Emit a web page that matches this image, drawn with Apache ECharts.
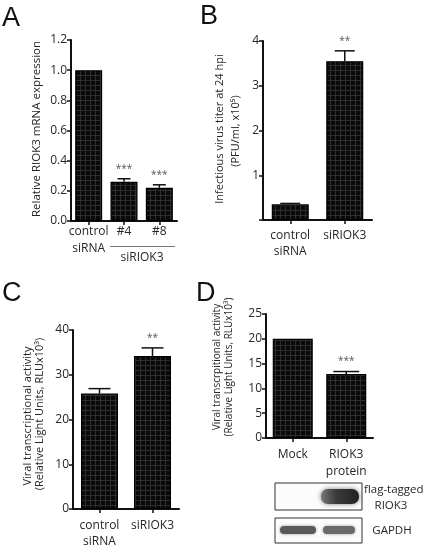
<!DOCTYPE html>
<html><head><meta charset="utf-8">
<script src="https://cdn.jsdelivr.net/npm/echarts@6/dist/echarts.min.js"></script>
<style>html,body{margin:0;padding:0;background:#fff}#c{width:429px;height:550px}</style>
</head><body><div id="c"></div>
<script>
// ---- Panel A ----
const catsA = ['control\nsiRNA', '#4', '#8'];
const valsA = [1.0, 0.26, 0.22];
const errA = [0, 0.02, 0.02];
const starsA = ['', '***', '***'];
// ---- Panel B ----
const catsB = ['control\nsiRNA', 'siRIOK3'];
const valsB = [0.35, 3.55];
const errB = [0.02, 0.23];
const starsB = ['', '**'];
// ---- Panel C ----
const catsC = ['control\nsiRNA', 'siRIOK3'];
const valsC = [25.8, 34.2];
const errC = [1.1, 1.8];
const starsC = ['', '**'];
// ---- Panel D ----
const catsD = ['Mock', 'RIOK3\nprotein'];
const valsD = [20, 12.9];
const errD = [0, 0.5];
const starsD = ['', '***'];

const FONT = '"Open Sans", "DejaVu Sans", sans-serif';
const TXT = '#262626';

function makePattern() {
  const c = document.createElement('canvas'); c.width = 5; c.height = 5;
  const g = c.getContext('2d');
  g.fillStyle = '#0a0a0a'; g.fillRect(0, 0, 5, 5);
  g.fillStyle = '#2e2e2e'; g.fillRect(0, 0, 5, 1); g.fillRect(0, 0, 1, 5);
  return c;
}
const barFill = { image: makePattern(), repeat: 'repeat' };

function yAxisCfg(grid, min, max, interval, fmt) {
  return {
    type: 'value', gridIndex: grid, min: min, max: max, interval: interval,
    splitLine: { show: false },
    axisLine: { show: true, lineStyle: { color: '#111', width: 2 } },
    axisTick: { show: true, length: 4, lineStyle: { color: '#111', width: 1.5 } },
    axisLabel: { fontSize: 12, color: TXT, fontFamily: FONT, margin: 4, formatter: fmt }
  };
}
function xAxisCfg(grid, cats, margin, lh) {
  return {
    type: 'category', gridIndex: grid, data: cats,
    axisLine: { show: true, lineStyle: { color: '#111', width: 2 } },
    axisTick: { show: true, alignWithLabel: true, length: 4, lineStyle: { color: '#111', width: 1.5 } },
    axisLabel: { fontSize: 12, color: TXT, fontFamily: FONT, margin: margin, lineHeight: lh, interval: 0 }
  };
}
function barSeries(ax, vals, width) {
  return {
    type: 'bar', xAxisIndex: ax, yAxisIndex: ax, data: vals, barWidth: width,
    itemStyle: { color: barFill, borderColor: '#000', borderWidth: 1.2 },
    silent: true, z: 2
  };
}
function errSeries(ax, vals, errs, stars, capW) {
  return {
    type: 'custom', xAxisIndex: ax, yAxisIndex: ax, z: 5, silent: true,
    data: vals.map((v, i) => [i, v, errs[i]]),
    renderItem: function (params, api) {
      const i = api.value(0), v = api.value(1), e = api.value(2);
      const base = api.coord([i, v]);
      const top = api.coord([i, v + e]);
      const ch = [];
      if (e > 0) {
        ch.push({ type: 'line', shape: { x1: top[0], y1: base[1], x2: top[0], y2: top[1] }, style: { stroke: '#111', lineWidth: 1.5 } });
        ch.push({ type: 'line', shape: { x1: top[0] - capW / 2, y1: top[1], x2: top[0] + capW / 2, y2: top[1] }, style: { stroke: '#111', lineWidth: 1.5 } });
      }
      const s = stars[params.dataIndex];
      if (s) {
        ch.push({ type: 'text', style: { text: s, x: top[0], y: top[1] - 5, align: 'center', verticalAlign: 'bottom', fontSize: 10, fill: '#555', fontFamily: FONT } });
      }
      return { type: 'group', children: ch };
    }
  };
}
function vText(x, y, text, size) {
  return { type: 'text', x: x, y: y, rotation: Math.PI / 2,
    style: { text: text, align: 'center', verticalAlign: 'middle', fontSize: size, fill: TXT, fontFamily: FONT } };
}
function letter(x, y, t) {
  return { type: 'text', x: x, y: y, style: { text: t, fontSize: 27, fill: '#111', fontFamily: '"Liberation Sans", Arial, sans-serif' } };
}

const chart = echarts.init(document.getElementById('c'), null, { renderer: 'canvas' });
chart.setOption({
  animation: false,
  backgroundColor: '#fff',
  grid: [
    { left: 71, top: 40, width: 106, height: 181 },
    { left: 263, top: 41, width: 109, height: 179 },
    { left: 73, top: 330, width: 106, height: 180 },
    { left: 266, top: 314, width: 107, height: 124 }
  ],
  xAxis: [
    xAxisCfg(0, catsA, 2, 17),
    xAxisCfg(1, catsB, 8, 16),
    xAxisCfg(2, catsC, 9, 16),
    xAxisCfg(3, catsD, 8, 17)
  ],
  yAxis: [
    yAxisCfg(0, 0, 1.2, 0.2, v => v.toFixed(1)),
    yAxisCfg(1, 0, 4, 1, v => v === 0 ? '' : String(v)),
    yAxisCfg(2, 0, 40, 10, v => String(v)),
    yAxisCfg(3, 0, 25, 5, v => String(v))
  ],
  series: [
    barSeries(0, valsA, 27), errSeries(0, valsA, errA, starsA, 13),
    barSeries(1, valsB, 37), errSeries(1, valsB, errB, starsB, 20),
    barSeries(2, valsC, 37), errSeries(2, valsC, errC, starsC, 22),
    barSeries(3, valsD, 40), errSeries(3, valsD, errD, starsD, 26)
  ],
  graphic: [
    letter(2, 5, 'A'), letter(200, 3, 'B'), letter(2, 280, 'C'), letter(196, 280, 'D'),
    vText(37, 129, 'Relative RIOK3 mRNA expression', 11.5),
    vText(220, 129, 'Infectious virus titer at 24 hpi', 11),
    vText(236, 131, '(PFU/ml, x10\u2075)', 11),
    vText(28, 416, 'Viral transcriptional activity', 11),
    vText(40, 414, '(Relative Light Units, RLUx10\u00b3)', 11),
    vText(217, 367, 'Viral transcrpitional activity', 10),
    vText(229, 367, '(Relative Light Units, RLUx10\u00b3)', 10),
    { type: 'line', shape: { x1: 110, y1: 246.5, x2: 175, y2: 246.5 }, style: { stroke: '#777', lineWidth: 1 } },
    { type: 'text', x: 142, y: 258, style: { text: 'siRIOK3', align: 'center', verticalAlign: 'middle', fontSize: 12, fill: TXT, fontFamily: FONT } },
    // western blot
    { type: 'rect', shape: { x: 275, y: 483, width: 87, height: 27 }, style: { fill: '#fcfcfc', stroke: '#333', lineWidth: 1 } },
    { type: 'rect', shape: { x: 321, y: 489, width: 38, height: 15, r: 7 },
      style: { fill: new echarts.graphic.LinearGradient(0, 0, 1, 0, [{ offset: 0, color: '#777' }, { offset: 0.4, color: '#3a3a3a' }, { offset: 1, color: '#222' }]),
        shadowBlur: 5, shadowColor: 'rgba(0,0,0,0.5)' } },
    { type: 'rect', shape: { x: 275, y: 518, width: 87, height: 25 }, style: { fill: '#fcfcfc', stroke: '#333', lineWidth: 1 } },
    { type: 'rect', shape: { x: 280, y: 526, width: 36, height: 8, r: 4 }, style: { fill: '#5a5a5a', shadowBlur: 3, shadowColor: 'rgba(0,0,0,0.4)' } },
    { type: 'rect', shape: { x: 323, y: 526, width: 32, height: 8, r: 4 }, style: { fill: '#6a6a6a', shadowBlur: 3, shadowColor: 'rgba(0,0,0,0.4)' } },
    { type: 'text', x: 364, y: 490, style: { text: 'flag-tagged', align: 'left', verticalAlign: 'middle', fontSize: 11.5, fill: TXT, fontFamily: FONT } },
    { type: 'text', x: 391, y: 506, style: { text: 'RIOK3', align: 'center', verticalAlign: 'middle', fontSize: 11.5, fill: TXT, fontFamily: FONT } },
    { type: 'text', x: 392, y: 531, style: { text: 'GAPDH', align: 'center', verticalAlign: 'middle', fontSize: 11.5, fill: TXT, fontFamily: FONT } }
  ]
});
</script>
</body></html>
